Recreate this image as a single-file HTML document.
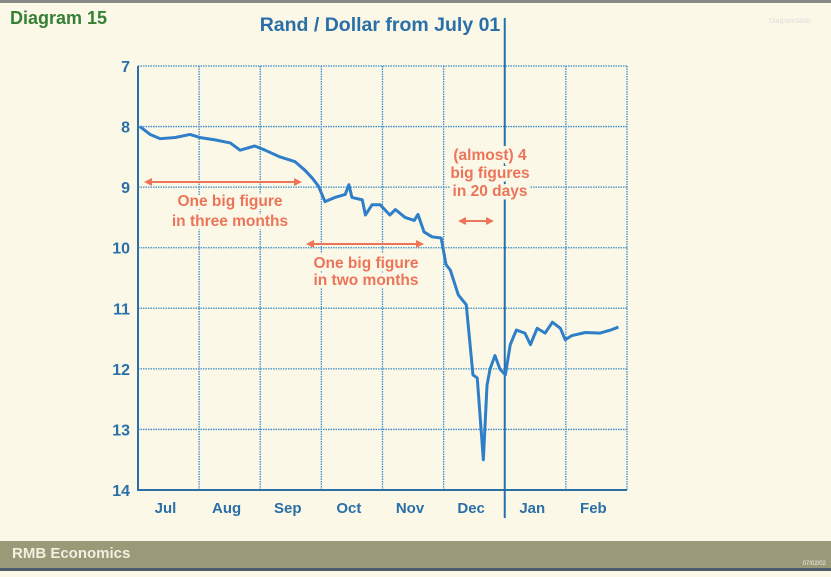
<!DOCTYPE html>
<html><head><meta charset="utf-8"><style>
body{margin:0;background:#fbf8e8;}
svg{display:block;font-family:"Liberation Sans",sans-serif;font-weight:bold;}
.ann text{paint-order:stroke;stroke:#fbf8e8;stroke-width:7px;stroke-linejoin:round;}
</style></head><body>
<svg width="831" height="577" viewBox="0 0 831 577">
<rect x="0" y="0" width="831" height="577" fill="#fbf8e8"/>
<rect x="0" y="0" width="831" height="3" fill="#888"/>
<text x="10" y="24" font-size="18" fill="#358035">Diagram 15</text>
<text x="380" y="31" font-size="19.5" fill="#2a6fa8" text-anchor="middle">Rand / Dollar from July 01</text>
<text x="790" y="23" font-size="7" fill="#ddd" text-anchor="middle" font-weight="normal">DiagramSlide</text>
<g id="grid"></g>
<g id="axes"></g>
<g class="ann" fill="#ec7458" font-size="15.5" text-anchor="middle">
<text x="230" y="206">One big figure</text>
<text x="230" y="226">in three months</text>
<text x="366" y="268">One big figure</text>
<text x="366" y="285">in two months</text>
<text x="490" y="160">(almost) 4</text>
<text x="490" y="178">big figures</text>
<text x="490" y="196">in 20 days</text>
</g>
<g id="series"></g>
<g stroke="#ec7458" stroke-width="2" fill="#ec7458">
<line x1="148" y1="182" x2="298" y2="182"/>
<path d="M144 182 l8 -4 v8 z M302 182 l-8 -4 v8 z" stroke="none"/>
<line x1="310" y1="244" x2="420" y2="244"/>
<path d="M306 244 l8 -4 v8 z M424 244 l-8 -4 v8 z" stroke="none"/>
<line x1="462" y1="221" x2="490" y2="221"/>
<path d="M458 221 l8 -4 v8 z M494 221 l-8 -4 v8 z" stroke="none"/>
</g>
<rect x="0" y="541" width="831" height="27" fill="#9b9a78"/>
<rect x="0" y="568" width="831" height="3" fill="#4d5a6e"/>
<text x="12" y="558" font-size="15" fill="#f2f0e0">RMB Economics</text>
<text x="826" y="565" font-size="6" fill="#eee" text-anchor="end" font-weight="normal">07/02/02</text>
</svg>
<script>
const months=["Jul","Aug","Sep","Oct","Nov","Dec","Jan","Feb"];
const yTicks=[7,8,9,10,11,12,13,14];
const tMonths=[0.03,0.2,0.36,0.61,0.85,1.01,1.26,1.51,1.67,1.91,2.08,2.32,2.57,2.73,2.85,2.95,3.06,3.22,3.39,3.45,3.5,3.67,3.72,3.83,3.96,4.12,4.21,4.37,4.52,4.58,4.68,4.81,4.96,5.04,5.11,5.24,5.37,5.48,5.55,5.65,5.71,5.76,5.84,5.92,6.01,6.09,6.19,6.33,6.42,6.53,6.66,6.78,6.91,6.99,7.1,7.32,7.56,7.73,7.86];
const rates=[8.0,8.13,8.2,8.18,8.13,8.18,8.22,8.27,8.39,8.32,8.39,8.5,8.58,8.72,8.85,8.98,9.24,9.17,9.12,8.96,9.17,9.21,9.46,9.29,9.29,9.46,9.37,9.5,9.55,9.45,9.74,9.82,9.84,10.28,10.37,10.78,10.94,12.1,12.15,13.5,12.27,12.0,11.78,12.0,12.1,11.6,11.36,11.41,11.6,11.33,11.41,11.23,11.33,11.52,11.45,11.4,11.41,11.36,11.31];
const X0=138,X1=627,Y0=66,Y1=490;
const xs=m=>X0+m*(X1-X0)/8;
const ys=v=>Y0+(v-7)*(Y1-Y0)/7;
const NS="http://www.w3.org/2000/svg";
function mk(tag,attrs,parent){const e=document.createElementNS(NS,tag);for(const k in attrs)e.setAttribute(k,attrs[k]);parent.appendChild(e);return e;}
const grid=document.getElementById('grid'),axes=document.getElementById('axes'),series=document.getElementById('series');
for(let i=0;i<=8;i++){
 const l=mk('line',{x1:xs(i),x2:xs(i),y1:Y0,y2:Y1,stroke:'#3a8cc8','stroke-width':1.3,'stroke-dasharray':'1.5 1'},grid);
 
 
}
yTicks.forEach(v=>{
 const l=mk('line',{x1:X0,x2:X1,y1:ys(v),y2:ys(v),stroke:'#3a8cc8','stroke-width':1.3,'stroke-dasharray':'1.5 1'},grid);
 
 
 const t=mk('text',{x:X0-8,y:ys(v)+6,'text-anchor':'end','font-size':16,fill:'#2a6fa8'},axes);
 t.textContent=v;
 
 
});
const ax=mk('path',{d:`M${X0} ${Y0} V${Y1} H${X1}`,stroke:'#2a6fa8','stroke-width':2,fill:'none'},axes);


months.forEach((m,i)=>{
 const t=mk('text',{x:xs(i+0.45),y:513,'text-anchor':'middle','font-size':15,fill:'#2a6fa8'},axes);
 t.textContent=m;
 
 
});
const yr=mk('line',{x1:xs(6),x2:xs(6),y1:18,y2:518,stroke:'#2a6fa8','stroke-width':2},axes);


const p=mk('polyline',{points:tMonths.map((m,i)=>xs(m)+','+ys(rates[i])).join(' '),fill:'none',stroke:'#2f7fc8','stroke-width':3,'stroke-linejoin':'round'},series);


</script>
</body></html>
